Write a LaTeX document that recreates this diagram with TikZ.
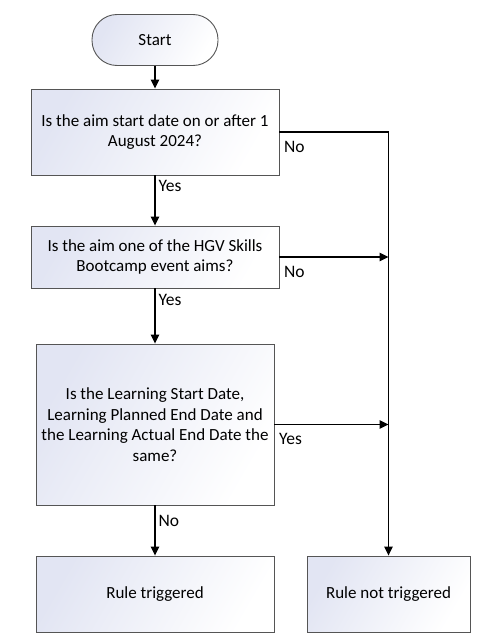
\documentclass[tikz,border=0pt]{standalone}
\usepackage{fontspec}
\setmainfont{Carlito}
\usetikzlibrary{arrows.meta}
\definecolor{boxtint}{RGB}{226,229,243}
\definecolor{boxline}{RGB}{85,85,85}
\tikzset{
  stepbox/.style={draw=boxline, line width=0.9pt, align=center,
    left color=boxtint, right color=white, shading angle=60,
    inner sep=0pt, font=\fontsize{17}{20.5}\selectfont},
  flow/.style={line width=1.2pt, -{Triangle[length=9pt,width=8.5pt]}},
  lbl/.style={font=\fontsize{17.5}{19}\selectfont, inner sep=4pt}
}
\begin{document}
\begin{tikzpicture}[x=1pt,y=-1pt]
\useasboundingbox (0,0) rectangle (496,642);
% the boxes, placed at the positions they take in the chart
% start terminator on top, the three questions below it,
% and the two outcomes side by side at the bottom
\node[stepbox, rounded corners=25pt, minimum width=126pt, minimum height=51pt] (start) at (155,40) {Start};
\node[stepbox, minimum width=248pt, minimum height=86pt] (qdate) at (155,132)
  {Is the aim start date on or after 1\\ August 2024?};
\node[stepbox, minimum width=248pt, minimum height=62pt] (qaim) at (155,257)
  {Is the aim one of the HGV Skills\\ Bootcamp event aims?};
\node[stepbox, minimum width=238pt, minimum height=161pt] (qsame) at (155,424.5)
  {Is the Learning Start Date,\\ Learning Planned End Date and\\ the Learning Actual End Date the\\ same?};
\node[stepbox, minimum width=238pt, minimum height=76pt] (hit) at (155,594) {Rule triggered};
\node[stepbox, minimum width=163pt, minimum height=76pt] (miss) at (388.5,594) {Rule not triggered};

% the main line down the left
\draw[flow] (start) -- (qdate);
\draw[flow] (qdate) -- node[lbl, pos=0.2, right, inner sep=3pt]{Yes} (qaim);
\draw[flow] (qaim) -- node[lbl, pos=0.2, right, inner sep=3pt]{Yes} (qsame);
\draw[flow] (qsame) -- node[lbl, pos=0.3, right, inner sep=3pt]{No} (hit);

% the branches that join the right hand line
\coordinate (turn) at (miss.north |- qdate.east);
\draw[flow] (qdate.east) node[lbl, below right, yshift=-5pt]{No} -- (turn) -- (miss.north);
\draw[flow] (qaim.east) node[lbl, below right, yshift=-5pt]{No} -- (miss.north |- qaim.east);
\draw[flow] (qsame.east) node[lbl, below right, yshift=-4pt]{Yes} -- (miss.north |- qsame.east);
\end{tikzpicture}
\end{document}
